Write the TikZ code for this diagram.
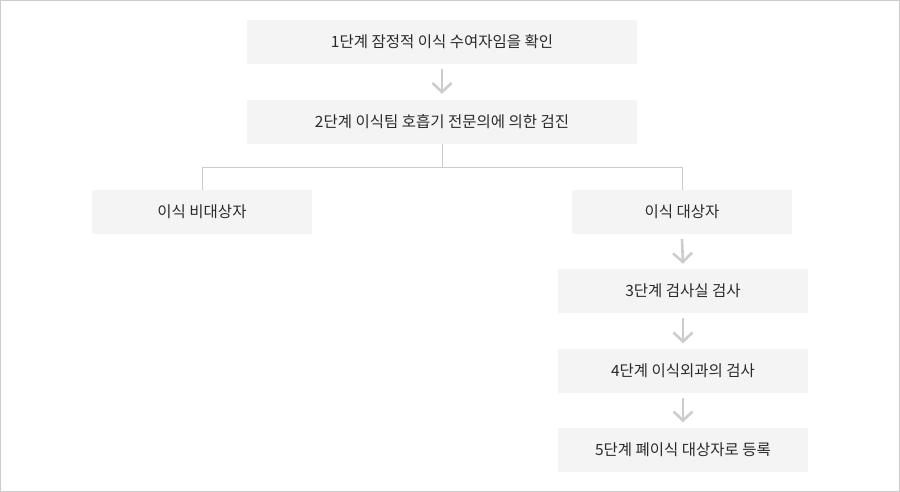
\documentclass[tikz,border=0pt]{standalone}
\usepackage{fontspec}
\setmainfont{Noto Sans CJK KR}
\usetikzlibrary{arrows.meta}
\definecolor{boxfill}{HTML}{F4F4F4}
\definecolor{txt}{HTML}{2A2A2A}
\definecolor{lin}{HTML}{CCCCCC}
\definecolor{frame}{HTML}{CCCCCC}
\begin{document}
\begin{tikzpicture}[x=1pt,y=-1pt,
  stepbox/.style={fill=boxfill,draw=none,minimum height=44pt,inner sep=0pt,
    text=txt,font=\fontsize{15.5pt}{17pt}\selectfont},
  flowarrow/.style={draw=lin,line width=2.6pt,
    -{Straight Barb[length=9pt,width=19pt,line width=2.6pt]}},
  branch/.style={draw=lin,line width=1pt}]
\draw[frame,line width=1pt] (0.5,0.5) rectangle (899.5,491.5);
\useasboundingbox (0,0) rectangle (900,492);
\node[stepbox,minimum width=390pt] (s1) at (442,42) {1단계 잠정적 이식 수여자임을 확인};
\node[stepbox,minimum width=390pt] (s2) at (442,122) {2단계 이식팀 호흡기 전문의에 의한 검진};
\node[stepbox,minimum width=220pt] (no) at (202,212) {이식 비대상자};
\node[stepbox,minimum width=220pt] (yes) at (682,212) {이식 대상자};
\node[stepbox,minimum width=250pt] (s3) at (683,291) {3단계 검사실 검사};
\node[stepbox,minimum width=250pt] (s4) at (683,370.5) {4단계 이식외과의 검사};
\node[stepbox,minimum width=250pt] (s5) at (683,449.5) {5단계 폐이식 대상자로 등록};
\coordinate (j) at (442,167.5);
\draw[flowarrow] ([yshift=-5pt]s1.south) -- ([yshift=6pt]s2.north);
\draw[branch] (s2.south) -- (j);
\draw[branch] (j) -| (no.north);
\draw[branch] (j) -| (yes.north);
\draw[flowarrow] ([yshift=-5pt]yes.south) -- ([yshift=5pt]s3.north);
\draw[flowarrow] ([yshift=-5pt]s3.south) -- ([yshift=5pt]s4.north);
\draw[flowarrow] ([yshift=-5pt]s4.south) -- ([yshift=5pt]s5.north);
\end{tikzpicture}
\end{document}
